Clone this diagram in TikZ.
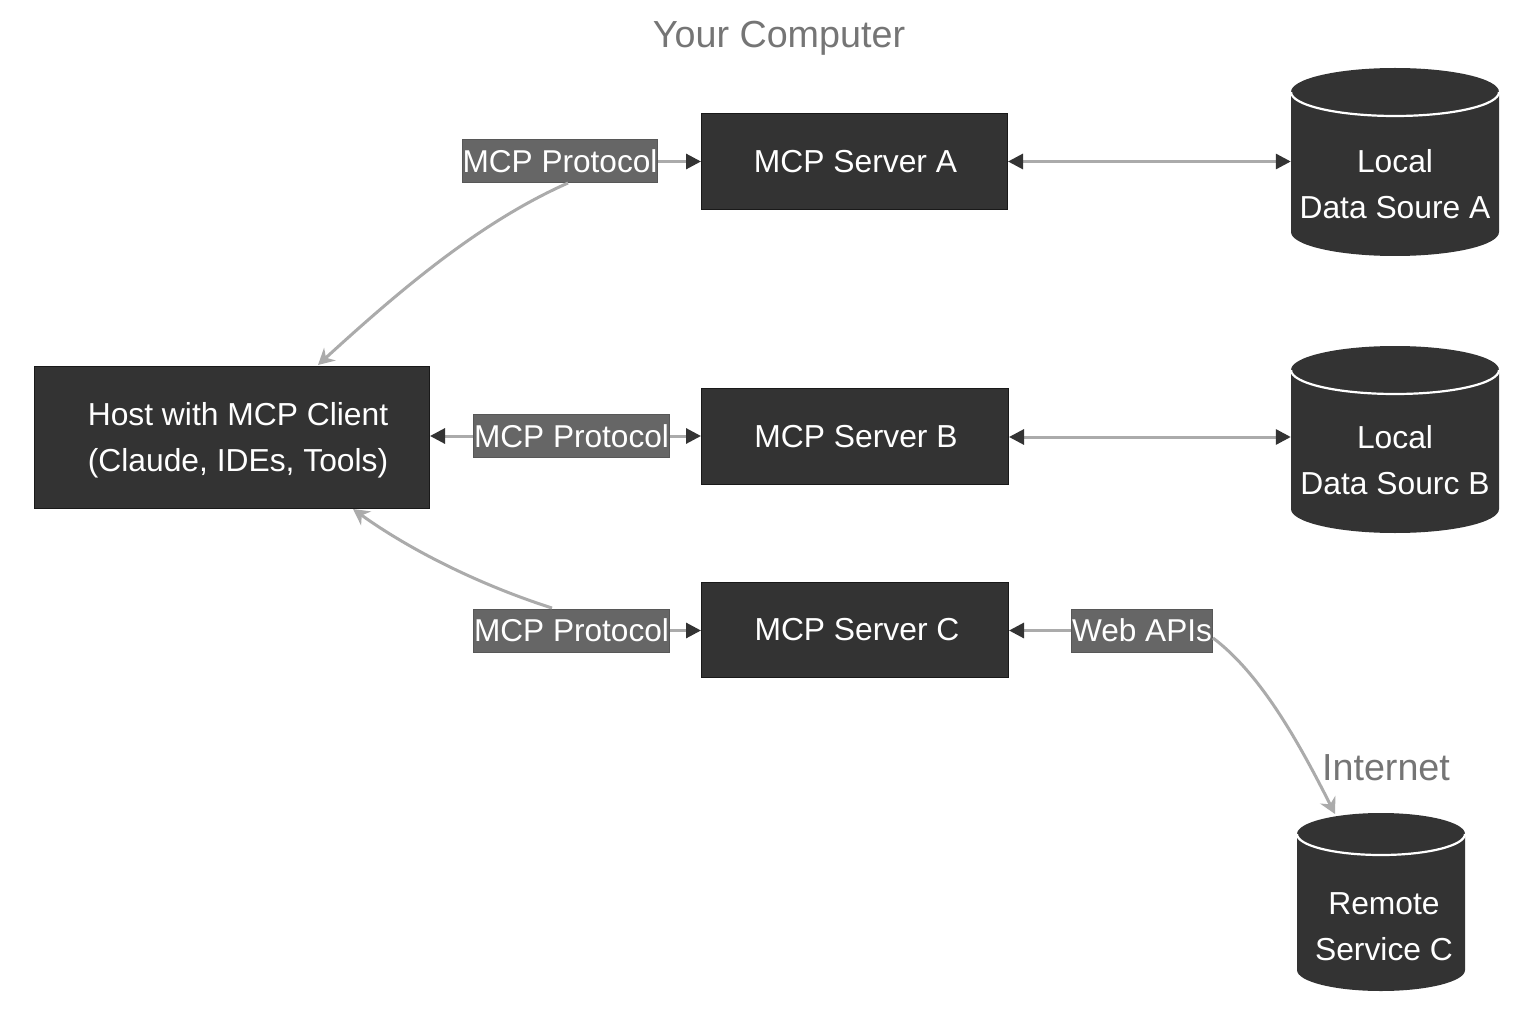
\documentclass[tikz,border=0pt]{standalone}
\usepackage{fontspec}
\setmainfont{Liberation Sans}
\usetikzlibrary{arrows.meta}
\definecolor{boxdark}{HTML}{333333}
\definecolor{labelgrey}{HTML}{666666}
\definecolor{linegrey}{HTML}{ABABAB}
\definecolor{titlegrey}{HTML}{757575}
\tikzset{
  x=1pt,y=-1pt,
  boxnode/.style={draw=black!90,line width=1pt,fill=boxdark,inner sep=0pt,anchor=north west},
  boxtext/.style={text=white,align=center,inner sep=0pt,font=\fontsize{31.8}{46}\selectfont},
  edgelabel/.style={draw=labelgrey!85!black,line width=1pt,fill=labelgrey,text=white,inner sep=0pt,minimum height=43pt,font=\fontsize{31.6}{38}\selectfont},
  grouptitle/.style={text=titlegrey,inner sep=0pt,font=\fontsize{37.7}{44}\selectfont},
  darkline/.style={draw=linegrey,line width=3pt,{Triangle[color=boxdark,length=15pt,width=15pt]}-{Triangle[color=boxdark,length=15pt,width=15pt]}},
  darkhead/.style={draw=linegrey,line width=3pt,-{Triangle[color=boxdark,length=15pt,width=15pt]}},
  greyhead/.style={draw=linegrey,line width=3pt,-{Stealth[color=linegrey,length=16pt,width=17pt]}},
}
% centre x, top y, bottom y, half width, ellipse half height, name
\newcommand{\dbshape}[6]{%
  \fill[boxdark] (#1-#4,#2+#5) arc[start angle=180,end angle=0,x radius=#4,y radius=-#5]
    -- (#1+#4,#3-#5) arc[start angle=0,end angle=-180,x radius=#4,y radius=-#5] -- cycle;
  \draw[white,line width=2.2pt] (#1-#4,#2+#5) arc[start angle=180,end angle=360,x radius=#4,y radius=-#5];
  \node[inner sep=0pt,minimum width=2*#4 pt,minimum height=#3pt-#2pt] (#6) at (#1,{(#2+#3)/2}) {};
}
\begin{document}
\begin{tikzpicture}
\useasboundingbox (0,0) rectangle (1536,1024);
\fill[white] (0,0) rectangle (1536,1024);

\node[grouptitle] (title) at (779,38) {Your Computer};
\node[grouptitle] (internet) at (1386,768) {Internet};

\node[boxnode,minimum width=395pt,minimum height=142pt] (host) at (34,366) {};
\node[boxtext] (hosttext) at (238,440) {Host with MCP Client\\(Claude, IDEs, Tools)};
\node[boxnode,minimum width=306pt,minimum height=96pt] (serverA) at (701,113) {};
\node[boxtext] at ([xshift=1pt]serverA.center) {MCP Server A};
\node[boxnode,minimum width=307pt,minimum height=96pt] (serverB) at (701,388) {};
\node[boxtext] at ([xshift=1pt]serverB.center) {MCP Server B};
\node[boxnode,minimum width=307pt,minimum height=95pt] (serverC) at (701,582) {};
\node[boxtext] at ([xshift=2pt]serverC.center) {MCP Server C};

\dbshape{1395}{68}{256}{104}{24}{dbA}
\node[boxtext] (dbAtext) at (1395,184.5) {Local\\Data Soure A};
\dbshape{1395}{346}{533}{104}{24}{dbB}
\node[boxtext] (dbBtext) at (1395,460.5) {Local\\Data Sourc B};
\dbshape{1381}{813}{991}{84}{21}{dbC}
\node[boxtext] (dbCtext) at (1384,926.5) {Remote\\Service C};

\node[edgelabel,minimum width=195pt] (labelA) at (560,161.5) {MCP Protocol};
\node[edgelabel,minimum width=196pt] (labelB) at (571.5,436) {MCP Protocol};
\node[edgelabel,minimum width=196pt] (labelC) at (571.5,630.5) {MCP Protocol};
\node[edgelabel,minimum width=141pt] (labelWeb) at (1142,630.5) {Web APIs};

\draw[darkhead] (labelA.east) -- (serverA.west |- labelA.east);
\draw[darkhead] (labelB.east) -- (serverB.west |- labelB.east);
\draw[darkhead] (labelB.west) -- (host.east |- labelB.west);
\draw[darkhead] (labelC.east) -- (serverC.west |- labelC.east);
\draw[darkhead] (labelWeb.west) -- (serverC.east |- labelWeb.west);
\draw[darkline] (serverA.east) -- (dbA.west |- serverA.east);
\draw[darkline] (serverB.east |- 0,437) -- (dbB.west |- 0,437);

\coordinate (hostTop) at (318,365);
\coordinate (hostBottom) at (353,509);
\coordinate (dbCTop) at (1335,814);
\coordinate (fromA) at (568,183);
\coordinate (fromC) at (552,608);
\coordinate (fromWeb) at (1213,638);
\draw[greyhead] (fromA) .. controls (480,222) and (400,290) .. (hostTop);
\draw[greyhead] (fromC) .. controls (480,585) and (410,550) .. (hostBottom);
\draw[greyhead] (fromWeb) .. controls (1262,675) and (1300,745) .. (dbCTop);
\end{tikzpicture}
\end{document}
